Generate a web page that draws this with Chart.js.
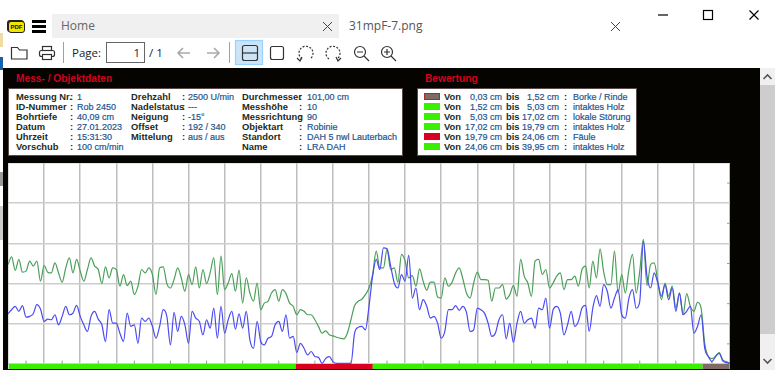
<!DOCTYPE html>
<html>
<head>
<meta charset="utf-8">
<title>31mpF-7.png</title>
<script src="https://cdn.jsdelivr.net/npm/chart.js@4"></script>
<style>
  html, body { margin: 0; padding: 0; background: #fff; overflow: hidden; }
  body { width: 775px; height: 370px; position: relative; font-family: "Open Sans", sans-serif; color: #444; }
  .abs { position: absolute; white-space: nowrap; }
  .sep { position: absolute; width: 1px; background: #a0a0a0; }
  svg { position: absolute; overflow: visible; fill: none; stroke: #333; stroke-width: 1.2; }
  #panel { position: absolute; left: 3px; top: 68px; width: 757px; height: 302px; background: #050400; }
  #sheet { position: absolute; left: 0; top: 0; width: 775px; height: 370px; filter: blur(0.3px); font-family: "Liberation Sans", Arial, sans-serif; }
  .red { color: #d4001e; font-weight: bold; font-size: 10.2px; }
  .box { position: absolute; top: 88px; height: 68px; background: #fff; border: 1px solid #5a4a48; box-sizing: border-box; }
  .t { position: absolute; white-space: nowrap; font-size: 9px; line-height: 10px; }
  .k { color: #1c2c22; font-weight: bold; font-size: 9.4px; }
  .v { color: #1f5590; font-weight: normal; -webkit-text-stroke: 0.2px #1f5590; }
  .sw { position: absolute; width: 16px; height: 7px; }
  #plot { position: absolute; left: 8px; top: 163px; width: 722px; height: 206px; background: #fff; }
  #scroll { position: absolute; left: 760px; top: 68px; width: 15px; height: 302px; background: #f0f0f0; }
  #thumb { position: absolute; left: 0; top: 17px; width: 15px; height: 249px; background: #cdcdcd; }
</style>
</head>
<body>
<!-- Reste des Fensters dahinter am linken Rand -->
<div class="abs" style="left:0;top:33px;width:3px;height:14px;background:#f0dca0;"></div>
<div class="abs" style="left:0;top:57px;width:3px;height:13px;background:#1a60a8;"></div>
<div class="abs" style="left:0;top:172px;width:3px;height:14px;background:#9a9a9a;"></div>
<div class="abs" style="left:0;top:206px;width:3px;height:34px;background:#cccccc;"></div>
<!-- Fenster und Werkzeugleiste -->
<div class="abs" style="left:8px;top:21px;width:15px;height:10px;background:#f5e400;border:1px solid #222;border-radius:3px;font:bold 6px 'Liberation Sans';color:#111;text-align:center;line-height:10px;box-shadow:-1px -1px 0 #222;">PDF</div>
<div class="abs" style="left:32px;top:20px;width:14px;height:3px;background:#000;"></div>
<div class="abs" style="left:32px;top:25px;width:14px;height:3px;background:#000;"></div>
<div class="abs" style="left:32px;top:30px;width:14px;height:3px;background:#000;"></div>
<div class="abs" style="left:52px;top:14px;width:287px;height:24px;background:#f0f0f0;"></div>
<div class="abs" style="left:61px;top:17px;font-size:12px;line-height:18px;color:#666;">Home</div>
<svg style="left:0;top:0" width="775" height="70">
  <path d="M323 22l9 9M332 22l-9 9M611 22l9 9M620 22l-9 9" stroke="#444" stroke-width="1"/>
  <path d="M658 15h10" stroke="#000"/>
  <rect x="703.5" y="10.5" width="9" height="9" stroke="#000"/>
  <path d="M749.5 10.5l9 9M758.5 10.5l-9 9" stroke="#000"/>
  <path d="M11.5 47.5h6l2 2.5h7.500v9h-15.500z" stroke="#333"/>
  <rect x="42.500" y="46.500" width="9" height="4" stroke="#333"/>
  <rect x="39.500" y="50.500" width="15" height="6" rx="2" stroke="#333"/>
  <rect x="42.500" y="54.500" width="9" height="5" fill="#fff" stroke="#333"/>
  <path d="M178 53h12M183 48l-5 5 5 5M207 53h12M214 48l5 5-5 5" stroke="#aaa" stroke-width="1.600"/>
  <rect x="235.500" y="40.500" width="27" height="24" fill="#cce4f7" stroke="#99d1ff"/>
  <rect x="242.500" y="45.500" width="15" height="15" rx="2" stroke="#333"/>
  <path d="M242.500 53h15" stroke="#333"/>
  <rect x="270.500" y="46.500" width="13" height="13" rx="2" stroke="#333"/>
  <path d="M302 59a7 7 0 1 1 8 0" stroke="#333" stroke-dasharray="2 1.500"/>
  <path d="M297 58l3 3 2-4" stroke="#333"/>
  <path d="M329 59a7 7 0 1 1 8 0" stroke="#333" stroke-dasharray="2 1.500"/>
  <path d="M341 58l-3 3-2-4" stroke="#333"/>
  <circle cx="360" cy="52" r="5.500" stroke="#333"/><path d="M364 56l5 5M357 52h6" stroke="#333"/>
  <circle cx="387" cy="52" r="5.500" stroke="#333"/><path d="M391 56l5 5M384 52h6M387 49v6" stroke="#333"/>
</svg>
<div class="abs" style="left:349px;top:17px;font-size:12px;line-height:18px;color:#555;">31mpF-7.png</div>
<div class="sep" style="left:63px;top:42px;height:21px;"></div>
<div class="sep" style="left:229px;top:42px;height:21px;"></div>
<div class="abs" style="left:72px;top:45px;font-size:11.500px;line-height:16px;color:#222;">Page:</div>
<div class="abs" style="left:106px;top:42px;width:39px;height:21px;box-sizing:border-box;border:1px solid #666;font-size:11.500px;line-height:19px;text-align:right;padding-right:4px;color:#224;">1</div>
<div class="abs" style="left:149px;top:45px;font-size:11.500px;line-height:16px;color:#224;">/ 1</div>

<div id="sheet">
  <div id="panel"></div>
  <div class="abs red" style="left:16px;top:73px;">Mess- / Objektdaten</div>
  <div class="abs red" style="left:425px;top:73px;">Bewertung</div>
  <div class="box" id="infoBox" style="left:8px;width:395px;"></div>
  <div class="box" id="rateBox" style="left:417px;width:220px;"></div>
  <div id="plot"><canvas id="chart" width="722" height="206"></canvas></div>
</div>
<div id="scroll">
  <div id="thumb"></div>
  <svg style="left:0;top:0" width="15" height="302">
    <path d="M3.500 11l4-4 4 4" stroke="#555" stroke-width="1.600"/>
    <path d="M3.500 291l4 4 4-4" stroke="#555" stroke-width="1.600"/>
  </svg>
</div>

<script>
// Kopfdaten, drei Spalten
const infoLabels1 = ['Messung Nr.', 'ID-Nummer', 'Bohrtiefe', 'Datum', 'Uhrzeit', 'Vorschub'];
const infoValues1 = ['1', 'Rob 2450', '40,09 cm', '27.01.2023', '15:31:30', '100 cm/min'];
const infoLabels2 = ['Drehzahl', 'Nadelstatus', 'Neigung', 'Offset', 'Mittelung'];
const infoValues2 = ['2500 U/min', '---', '-15°', '192 / 340', 'aus / aus'];
const infoLabels3 = ['Durchmesser', 'Messhöhe', 'Messrichtung', 'Objektart', 'Standort', 'Name'];
const infoValues3 = ['101,00 cm', '10', '90', 'Robinie', 'DAH 5 nwl Lauterbach', 'LRA DAH'];

// Bewertung
const rateVon = [0.03, 1.52, 5.03, 17.02, 19.79, 24.06];
const rateBis = [1.52, 5.03, 17.02, 19.79, 24.06, 39.95];
const rateText = ['Borke / Rinde', 'intaktes Holz', 'lokale Störung', 'intaktes Holz', 'Fäule', 'intaktes Holz'];
const rateColors = ['#7f6a66', '#38f000', '#38f000', '#38f000', '#d8001e', '#38f000'];

// Messkurven, links (40 cm) nach rechts (0 cm)
const depthCm = [40,39.8,39.6,39.4,39.2,39,38.8,38.6,38.4,38.2,38,37.8,37.6,37.4,37.2,37,36.8,36.6,36.4,36.2,36,35.8,35.6,35.4,35.2,35,34.8,34.6,34.4,34.2,34,33.8,33.6,33.4,33.2,33,32.8,32.6,32.4,32.2,32,31.8,31.6,31.4,31.2,31,30.8,30.6,30.4,30.2,30,29.8,29.6,29.4,29.2,29,28.8,28.6,28.4,28.2,28,27.8,27.6,27.4,27.2,27,26.8,26.6,26.4,26.2,26,25.8,25.6,25.4,25.2,25,24.8,24.6,24.4,24.2,24,23.8,23.6,23.4,23.2,23,22.8,22.6,22.4,22.2,22,21.8,21.6,21.4,21.2,21,20.8,20.6,20.4,20.2,20,19.8,19.6,19.4,19.2,19,18.8,18.6,18.4,18.2,18,17.8,17.6,17.4,17.2,17,16.8,16.6,16.4,16.2,16,15.8,15.6,15.4,15.2,15,14.8,14.6,14.4,14.2,14,13.8,13.6,13.4,13.2,13,12.8,12.6,12.4,12.2,12,11.8,11.6,11.4,11.2,11,10.8,10.6,10.4,10.2,10,9.8,9.6,9.4,9.2,9,8.8,8.6,8.4,8.2,8,7.8,7.6,7.4,7.2,7,6.8,6.6,6.4,6.2,6,5.8,5.6,5.4,5.2,5,4.8,4.6,4.4,4.2,4,3.8,3.6,3.4,3.2,3,2.8,2.6,2.4,2.2,2,1.8,1.6,1.4,1.2,1,0.8,0.6,0.4,0.2,0];
const greenValues = [49.5,53.3,46.5,52,45.7,46.2,51.2,48.7,51.2,41.2,49,45.7,45.3,50.3,45.3,40.7,47.8,52.8,45.3,52,46.2,41.2,47,52.8,48.7,47,40,48.3,42.8,47.8,47,38.7,44.5,39,41.2,34.5,38.7,47,45.3,47.8,44.5,34.5,47.8,48.3,40,37.8,42,47.8,42.8,36.2,44.5,
  39.5,48.3,37.8,47,40,45.3,52.8,34.5,53.7,37,40.3,45,36.2,46.7,30.3,42.8,35.3,31.2,40.3,27,30.3,31.2,35.3,37,31.2,37,35,30.3,28.7,24.5,27,26.2,24.5,24.5,22,18.7,15.3,16.5,14.5,14,13.3,12.8,12.5,15.3,22,29,31.2,32.2,34.5,37.8,44.5,56.2,47.8,
  47.8,57,47,47.8,40.7,54.5,51.2,42.8,44,38.7,47.3,41.2,36.7,40.7,40.7,33.3,32.8,42.8,38.7,40.7,45.3,47.8,42.3,35.3,32.8,40.3,45.7,42,42,41.7,31.2,37.8,37.8,39.5,32.3,34.5,39,33.7,52,43.7,40.3,33.7,51.2,52,44.5,47,37.8,40.3,43.7,45.3,37,42,
  42,43.7,38.7,47,48.7,37.8,51.2,42.8,57.3,46,39.5,39.5,56.2,35.3,44.5,35.3,47,54.5,35.3,46.2,62,39,49.5,50.3,41.2,32,40.3,33.7,38.7,27.8,35.3,24.5,35,28.7,26.2,30.7,27.8,10.3,3.7,2.7,3.7,5.7,2,1.2,0.3];
const blueValues = [25,27,28.7,26.2,29,23.3,23.7,25,29.5,27.3,21.2,22.3,22,24.5,19.5,23.7,28.7,24.5,25.3,29.2,23.7,19.5,16.2,23.7,26.2,22.3,19.5,11.2,27,20.3,20.3,15.3,11.2,25.3,18.7,19.5,10.3,22.8,21.2,22.8,18.7,12.8,18.7,27,23.7,9.5,25.7,16.2,23.7,19.5,10.3,
  26.2,22.8,21.2,14.5,22,17.8,27.8,12.8,28.7,15.3,22,26.2,17.3,25,17.8,26.2,12,7.8,21.2,11.2,9.5,12.8,13.7,19.5,21.2,16.2,24.5,12.8,13.7,5.7,10.3,7.8,4.5,6.2,3.7,3.3,0.3,2.8,3.7,1.2,0.3,0.3,0.3,0.3,0.3,15.3,18.2,18.7,17,28.7,43.7,52,47,
  57.8,57.3,48.7,40.3,37.8,44.5,41.2,54,32.8,37.8,27,32,28.7,22.8,23.7,20.3,12.8,16.2,27,27,29,26.7,28.7,25.7,16.2,17,27.8,27,25.3,20.3,13.7,15.3,22,24.5,12.5,20.3,10.7,20.3,26.2,20.3,22,22.8,17.8,27.8,27,32.8,17.8,27,28.7,25.3,14.5,19.5,
  26.2,18.7,21.2,27.8,29.2,16.2,27.8,34,28.7,39.5,36.2,27.8,32.8,37,24.5,22.8,32.8,37,27.8,31.2,61.2,43.7,37.8,45.3,40.3,33.7,39.5,32,37.8,26.2,35.3,24.5,26.2,28.7,15.3,18.7,24.5,7.8,3.7,1.2,3.7,5.3,1.5,0.7,0.3];

// Achsen
const yGridValues = [0, 20, 40, 60, 80, 100];
const yMinorValues = [10, 30, 50, 70, 90];
const xMinorValues = [1, 3, 5, 7, 9, 11, 13, 15, 17, 19, 21, 23, 25, 27, 29, 31, 33, 35, 37, 39];

function addText(parent, x, y, text, cls, alignRight) {
  const el = document.createElement('div');
  el.className = 't ' + cls;
  el.textContent = text;
  el.style.top = (y - parent.offsetTop - 1) + 'px';
  if (alignRight) {
    el.style.right = (parent.offsetLeft + parent.offsetWidth - x - 1) + 'px';
  } else {
    el.style.left = (x - parent.offsetLeft - 1) + 'px';
  }
  parent.appendChild(el);
}

function fillInfoColumn(labels, values, xLabel, xColon, xValue) {
  const box = document.getElementById('infoBox');
  labels.forEach((label, i) => addText(box, xLabel, 92 + i * 10, label, 'k'));
  values.forEach((value, i) => {
    addText(box, xColon, 92 + i * 10, ':', 'k');
    addText(box, xValue, 92 + i * 10, value, 'v');
  });
}

fillInfoColumn(infoLabels1, infoValues1, 16, 70, 77);
fillInfoColumn(infoLabels2, infoValues2, 131, 182, 188);
fillInfoColumn(infoLabels3, infoValues3, 242, 299, 307);

const rateBox = document.getElementById('rateBox');
const cm = n => n.toFixed(2).replace('.', ',') + ' cm';
rateVon.forEach((von, i) => {
  const y = 92 + i * 10;
  const sw = document.createElement('div');
  sw.className = 'sw';
  sw.style.left = (424 - 417 - 1) + 'px';
  sw.style.top = (y + 1 - 88 - 1) + 'px';
  sw.style.background = rateColors[i];
  if (i === 0) sw.style.boxShadow = 'inset 0 0 0 1px #a03030';
  rateBox.appendChild(sw);
  addText(rateBox, 444, y, 'Von', 'k');
  addText(rateBox, 502, y, cm(von), 'v', true);
  addText(rateBox, 506, y, 'bis', 'k');
  addText(rateBox, 559, y, cm(rateBis[i]), 'v', true);
  addText(rateBox, 564, y, ':', 'k');
  addText(rateBox, 573, y, rateText[i], 'v');
});

// Bewertungsstreifen unter der Nulllinie
const stripY = -1.25;
const stripSets = rateVon.map((von, i) => ({
  type: 'line',
  data: [{ x: von, y: stripY }, { x: rateBis[i], y: stripY }],
  borderColor: rateColors[i],
  borderWidth: 5,
  borderCapStyle: 'butt',
  pointRadius: 0,
  order: 5
}));

const toPoints = values => values.map((v, i) => ({ x: depthCm[i], y: v }));

new Chart(document.getElementById('chart').getContext('2d'), {
  type: 'line',
  data: {
    datasets: [
      {
        label: 'Vorschub',
        data: toPoints(blueValues),
        borderColor: '#4a4af2',
        borderWidth: 1.2,
        pointRadius: 0,
        cubicInterpolationMode: 'monotone',
        order: 1
      },
      {
        label: 'Bohrwiderstand',
        data: toPoints(greenValues),
        borderColor: '#4a9f58',
        borderWidth: 1.2,
        pointRadius: 0,
        cubicInterpolationMode: 'monotone',
        order: 2
      },
      {
        data: xMinorValues.map(x => ({ x: x, y: 0.9 })),
        showLine: false,
        pointStyle: 'line',
        rotation: 90,
        pointRadius: 1.6,
        pointBorderColor: '#999',
        pointBorderWidth: 1,
        order: 3
      },
      {
        data: yMinorValues.map(y => ({ x: 0.08, y: y })),
        showLine: false,
        pointStyle: 'line',
        pointRadius: 1.5,
        pointBorderColor: '#999',
        pointBorderWidth: 1,
        order: 3
      },
      ...stripSets
    ]
  },
  options: {
    responsive: false,
    animation: false,
    plugins: { legend: { display: false }, tooltip: { enabled: false } },
    layout: { padding: 0, autoPadding: false },
    scales: {
      x: {
        type: 'linear',
        reverse: true,
        min: 0,
        max: 40,
        ticks: { display: false, stepSize: 2 },
        border: { display: false },
        grid: { color: '#bdbdbd', lineWidth: 1.5, drawTicks: false }
      },
      y: {
        min: -2.5,
        max: 100,
        afterBuildTicks: scale => { scale.ticks = yGridValues.map(v => ({ value: v })); },
        ticks: { display: false },
        border: { display: false },
        grid: { color: '#cdcdcd', lineWidth: 1.5, drawTicks: false }
      }
    }
  }
});
</script>
</body>
</html>
